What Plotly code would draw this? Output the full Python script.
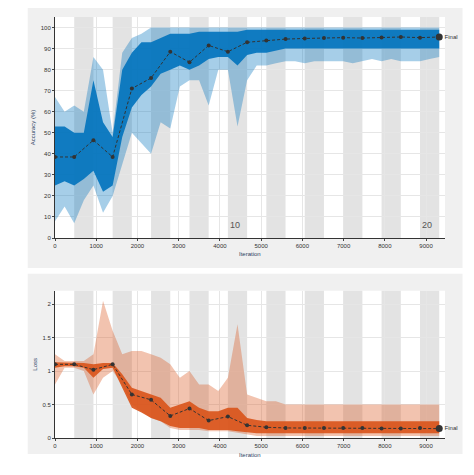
import plotly.graph_objects as go

iters_per_epoch = 466
n_epochs = 20
grid = [i * 233 for i in range(41)]
val_x = [i * 466 for i in range(21)]

acc_val = [38.5, 38.5, 46.5, 38.5, 71, 76, 88.5, 83.5, 91.5, 88.5, 93, 93.8, 94.5, 94.8, 95, 95.2, 95, 95.3, 95.5, 95.2, 95.5]
loss_val = [1.1, 1.1, 1.02, 1.1, 0.65, 0.57, 0.33, 0.44, 0.26, 0.32, 0.19, 0.16, 0.15, 0.15, 0.15, 0.15, 0.15, 0.14, 0.14, 0.15, 0.14]

acc_hi = [67, 60, 63, 60, 86, 80, 50, 88, 95, 97, 100, 100, 100, 100, 100, 100, 100, 100, 100, 100, 100] + [100] * 20
acc_lo = [8, 15, 7, 18, 25, 12, 20, 35, 50, 45, 40, 55, 52, 72, 75, 75, 63, 80, 80, 53, 75, 82, 82, 83, 84, 84, 83, 84, 84, 84, 84, 83, 84, 85, 84, 85, 84, 84, 84, 85, 86]
acc_chi = [53, 53, 50, 50, 75, 55, 48, 80, 88, 93, 93, 95, 97, 97, 97, 98, 98, 98, 98, 98] + [99] * 21
acc_clo = [25, 27, 25, 28, 32, 22, 25, 48, 62, 68, 72, 78, 80, 82, 80, 82, 85, 86, 86, 82, 87, 88, 88, 89] + [90] * 17

loss_hi = [1.25, 1.15, 1.15, 1.15, 1.25, 2.05, 1.6, 1.25, 1.3, 1.3, 1.25, 1.2, 1.1, 0.9, 1.0, 0.8, 0.8, 0.7, 0.9, 1.7, 0.65, 0.6, 0.55, 0.55] + [0.5] * 17
loss_lo = [0.8, 1.05, 1.05, 1.0, 0.65, 0.9, 1.0, 0.8, 0.5, 0.4, 0.3, 0.25, 0.15, 0.12, 0.12, 0.12, 0.1, 0.1, 0.1, 0.08, 0.05] + [0.03] * 20
loss_chi = [1.13, 1.13, 1.12, 1.12, 1.1, 1.12, 1.12, 0.95, 0.75, 0.7, 0.65, 0.6, 0.45, 0.5, 0.55, 0.45, 0.4, 0.4, 0.45, 0.45, 0.3, 0.27] + [0.25] * 19
loss_clo = [1.05, 1.07, 1.07, 1.05, 0.9, 1.03, 1.05, 0.75, 0.45, 0.38, 0.3, 0.25, 0.18, 0.15, 0.15, 0.15, 0.12, 0.12, 0.12, 0.1, 0.08] + [0.07] * 20

epoch_labels = {10: "10", 20: "20"}

fig = go.Figure()

def band(x, lo, hi, color, ax):
    fig.add_trace(go.Scatter(x=x, y=lo, mode="lines", line=dict(width=0), showlegend=False, xaxis=ax[0], yaxis=ax[1], hoverinfo="skip"))
    fig.add_trace(go.Scatter(x=x, y=hi, mode="lines", line=dict(width=0), fill="tonexty", fillcolor=color, showlegend=False, xaxis=ax[0], yaxis=ax[1], hoverinfo="skip"))

band(grid, acc_lo, acc_hi, "rgba(0,114,189,0.35)", ("x", "y"))
band(grid, acc_clo, acc_chi, "rgba(0,114,189,0.9)", ("x", "y"))
band(grid, loss_lo, loss_hi, "rgba(217,83,25,0.35)", ("x2", "y2"))
band(grid, loss_clo, loss_chi, "rgba(217,83,25,0.9)", ("x2", "y2"))

for vx, vy, ax in [(val_x, acc_val, ("x", "y")), (val_x, loss_val, ("x2", "y2"))]:
    fig.add_trace(go.Scatter(x=vx, y=vy, mode="lines+markers", line=dict(color="#333", width=1, dash="3px,2px"),
                             marker=dict(color="#333", size=4), showlegend=False, xaxis=ax[0], yaxis=ax[1]))
    fig.add_trace(go.Scatter(x=[vx[-1]], y=[vy[-1]], mode="markers+text", text=["Final"], textposition="middle right",
                             textfont=dict(size=6, color="#333"), marker=dict(color="#333", size=7), cliponaxis=False,
                             showlegend=False, xaxis=ax[0], yaxis=ax[1]))

shapes = [
    dict(type="rect", xref="paper", yref="paper", x0=-0.07, x1=1.045, y0=0.404, y1=1.03, fillcolor="#f0f0f0", line=dict(width=0), layer="below"),
    dict(type="rect", xref="paper", yref="paper", x0=-0.07, x1=1.045, y0=-0.038, y1=0.39, fillcolor="#f0f0f0", line=dict(width=0), layer="below"),
]
for xr, yr in [("x", "y domain"), ("x2", "y2 domain")]:
    shapes.append(dict(type="rect", xref=xr, yref=yr, x0=0, x1=9460, y0=0, y1=1, fillcolor="white", line=dict(width=0), layer="below"))
for e in range(1, n_epochs, 2):
    for xr, yr in [("x", "y domain"), ("x2", "y2 domain")]:
        shapes.append(dict(type="rect", xref=xr, yref=yr, x0=e * iters_per_epoch, x1=(e + 1) * iters_per_epoch,
                           y0=0, y1=1, fillcolor="#e3e3e3", line=dict(width=0), layer="below"))

annotations = [dict(x=e * iters_per_epoch - 300, y=3, xref="x", yref="y", text=t, showarrow=False,
                    font=dict(size=9, color="#555"), yanchor="bottom") for e, t in epoch_labels.items()]
annotations.append(dict(x=0.5, y=0.437, xref="paper", yref="paper", text="Iteration", showarrow=False, font=dict(size=6)))
annotations.append(dict(x=0.5, y=-0.052, xref="paper", yref="paper", text="Iteration", showarrow=False, font=dict(size=6)))

axis_common = dict(showgrid=True, gridcolor="#e6e6e6", zeroline=False, showline=True, linecolor="#333",
                   tickfont=dict(size=6, color="#333"), ticks="outside", ticklen=2, mirror=False)
fig.update_layout(
    width=474, height=475, margin=dict(l=47, r=37, t=9, b=45),
    paper_bgcolor="white", plot_bgcolor="rgba(0,0,0,0)", font=dict(family="Liberation Sans"),
    shapes=shapes, annotations=annotations,
    xaxis=dict(domain=[0, 1], anchor="y", range=[0, 9460], dtick=1000, **axis_common),
    yaxis=dict(domain=[0.475, 1], range=[0, 105], dtick=10, title=dict(text="Accuracy (%)", font=dict(size=6), standoff=4), **axis_common),
    xaxis2=dict(domain=[0, 1], anchor="y2", range=[0, 9460], dtick=1000, **axis_common),
    yaxis2=dict(domain=[0, 0.35], range=[0, 2.2], dtick=0.5, title=dict(text="Loss", font=dict(size=6), standoff=4), **axis_common),
)
fig.write_html("out.html")
